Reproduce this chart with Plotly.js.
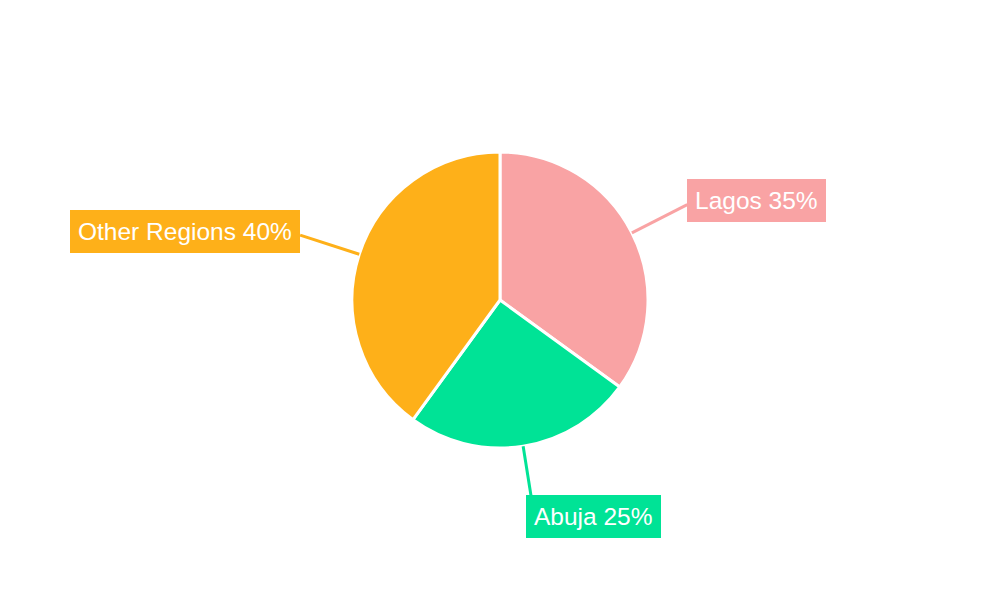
<!DOCTYPE html>
<html>
<head>
<meta charset="utf-8">
<script src="https://cdn.plot.ly/plotly-3.0.1.min.js"></script>
<style>html,body{margin:0;padding:0;background:#fff;}#chart{width:1000px;height:600px;}</style>
</head>
<body>
<div id="chart"></div>
<script>
const labels = ["Lagos", "Abuja", "Other Regions"];
const values = [35, 25, 40];
const colors = ["#F9A3A4", "#00E396", "#FEB019"];

const W = 1000, H = 600;
const CX = 500, CY = 300, R = 148;
const total = values.reduce((a, b) => a + b, 0);

const shapes = [];
const annotations = [];
let acc = 0;
values.forEach((v, i) => {
  const mid = (acc + v / 2) / total * 2 * Math.PI; // clockwise from 12 o'clock
  acc += v;
  const sx = Math.sin(mid), sy = -Math.cos(mid);
  const x0 = CX + sx * R * 1.0, y0 = CY + sy * R * 1.0;
  const x1 = CX + sx * R * 1.42, y1 = CY + sy * R * 1.42;
  shapes.push({
    type: "line", xref: "paper", yref: "paper",
    x0: x0 / W, y0: 1 - y0 / H, x1: x1 / W, y1: 1 - y1 / H,
    line: {color: colors[i], width: 3}
  });
  const bottomish = Math.abs(sx) < 0.3;
  annotations.push({
    xref: "paper", yref: "paper",
    x: (bottomish ? x1 - 7 : x1) / W,
    y: 1 - (bottomish ? y1 + 9 : y1 - 4) / H,
    xanchor: sx >= 0 ? "left" : "right",
    yanchor: "middle",
    text: labels[i] + " " + Math.round(v / total * 100) + "%",
    showarrow: false,
    bgcolor: colors[i],
    borderpad: 8,
    borderwidth: 0,
    font: {family: "Liberation Sans, Arial, sans-serif", size: 24.5, color: "#ffffff"}
  });
});

const data = [{
  type: "pie",
  labels: labels,
  values: values,
  sort: false,
  direction: "clockwise",
  rotation: 0,
  textinfo: "none",
  hoverinfo: "label+percent",
  marker: {colors: colors, line: {color: "#ffffff", width: 3}},
  domain: {x: [0, 1], y: [(H - CY - R) / H, (H - CY + R) / H]},
  showlegend: false
}];

const layout = {
  width: W, height: H,
  margin: {l: 0, r: 0, t: 0, b: 0},
  paper_bgcolor: "#ffffff",
  showlegend: false,
  shapes: shapes,
  annotations: annotations
};

Plotly.newPlot("chart", data, layout, {displayModeBar: false, staticPlot: true});
</script>
</body>
</html>
